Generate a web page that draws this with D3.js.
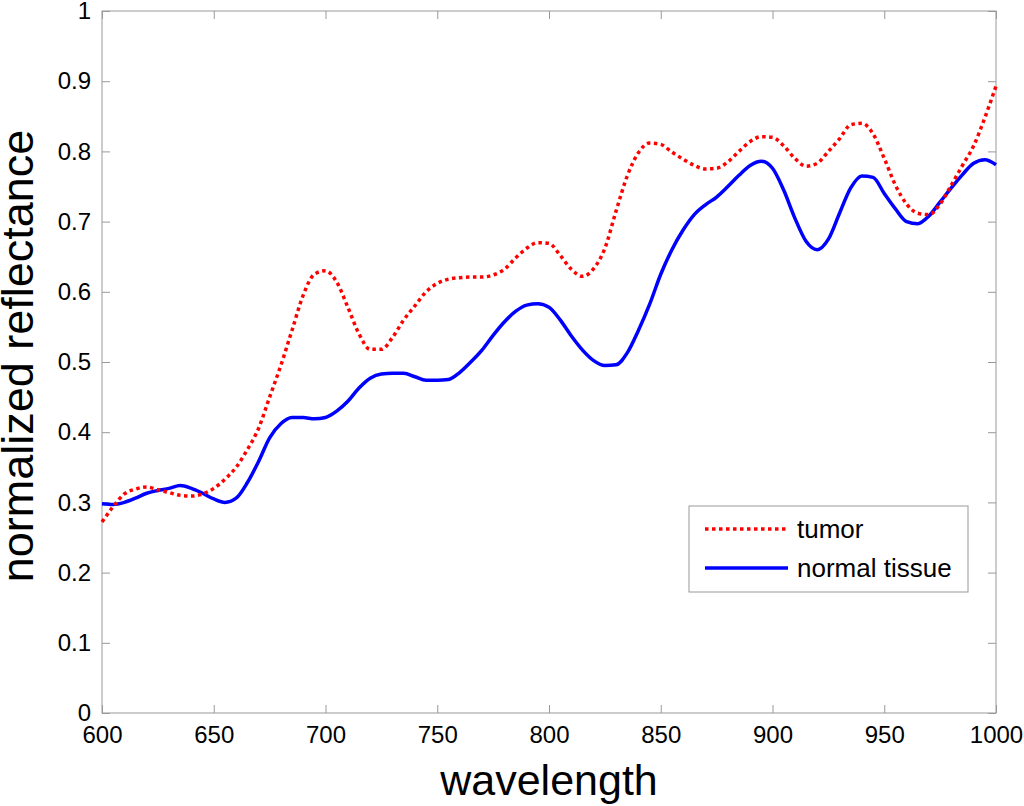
<!DOCTYPE html>
<html>
<head>
<meta charset="utf-8">
<style>
  body { margin: 0; background: white; font-family: "Liberation Sans", Arial, sans-serif; }
  svg { display: block; }
</style>
<script src="https://cdn.jsdelivr.net/npm/d3@7"></script>
</head>
<body>
<svg id="main"></svg>
<script>
// wavelength samples (nm)
const wavelengths = [600, 605, 610, 615, 620, 625, 630, 635, 640, 645,
  650, 655, 660, 665, 670, 675, 680, 685, 690, 695,
  700, 705, 710, 715, 720, 725, 730, 735, 740, 745,
  750, 755, 760, 765, 770, 775, 780, 785, 790, 795,
  800, 805, 810, 815, 820, 825, 830, 835, 840, 845,
  850, 855, 860, 865, 870, 875, 880, 885, 890, 895,
  900, 905, 910, 915, 920, 925, 930, 935, 940, 945,
  950, 955, 960, 965, 970, 975, 980, 985, 990, 995, 1000]

const tumor = [0.272, 0.294, 0.312, 0.319, 0.322, 0.318, 0.314, 0.310, 0.309, 0.312,
  0.320, 0.333, 0.350, 0.375, 0.405, 0.450, 0.495, 0.545, 0.595, 0.625,
  0.630, 0.614, 0.578, 0.540, 0.518, 0.518, 0.535, 0.560, 0.580, 0.600,
  0.612, 0.618, 0.620, 0.621, 0.621, 0.624, 0.632, 0.648, 0.662, 0.670,
  0.669, 0.652, 0.632, 0.622, 0.633, 0.662, 0.715, 0.765, 0.798, 0.812,
  0.810, 0.799, 0.789, 0.780, 0.775, 0.776, 0.785, 0.800, 0.814, 0.821,
  0.820, 0.808, 0.790, 0.779, 0.783, 0.800, 0.818, 0.838, 0.840, 0.825,
  0.790, 0.752, 0.725, 0.712, 0.710, 0.725, 0.752, 0.780, 0.808, 0.848, 0.893]

const normalTissue = [0.298, 0.297, 0.300, 0.306, 0.313, 0.317, 0.320, 0.324, 0.320, 0.313,
  0.305, 0.300, 0.306, 0.328, 0.358, 0.392, 0.412, 0.421, 0.421, 0.419,
  0.421, 0.430, 0.444, 0.463, 0.477, 0.483, 0.484, 0.484, 0.479, 0.474,
  0.474, 0.475, 0.485, 0.500, 0.517, 0.538, 0.557, 0.572, 0.581, 0.583,
  0.578, 0.560, 0.537, 0.517, 0.502, 0.495, 0.496, 0.513, 0.545, 0.582,
  0.625, 0.660, 0.688, 0.710, 0.724, 0.735, 0.750, 0.766, 0.780, 0.786,
  0.776, 0.745, 0.705, 0.672, 0.660, 0.675, 0.712, 0.748, 0.765, 0.763,
  0.740, 0.718, 0.700, 0.697, 0.708, 0.728, 0.748, 0.767, 0.783, 0.788, 0.781]

const xTicks = [600, 650, 700, 750, 800, 850, 900, 950, 1000]
const yTicks = [0, 0.1, 0.2, 0.3, 0.4, 0.5, 0.6, 0.7, 0.8, 0.9, 1]

const seriesNames = ["tumor", "normal tissue"]

const width = 1024
const height = 806
const margin = {top: 11, right: 28, bottom: 93, left: 102}

const svg = d3.select("#main")
  .attr("width", width)
  .attr("height", height)

const x = d3.scaleLinear().domain([600, 1000]).range([margin.left, width - margin.right])
const y = d3.scaleLinear().domain([0, 1]).range([height - margin.bottom, margin.top])

const axisColor = "#999"
const fmt = d3.format("~g")

// axis box
svg.append("rect")
  .attr("x", x(600)).attr("y", y(1))
  .attr("width", x(1000) - x(600)).attr("height", y(0) - y(1))
  .attr("fill", "white").attr("stroke", axisColor).attr("stroke-width", 1)

function styleAxis(g) {
  g.select(".domain").remove()
  g.selectAll(".tick line").attr("stroke", axisColor)
  g.selectAll(".tick text").attr("fill", "black")
    .attr("font-family", "'Liberation Sans', Arial, sans-serif")
    .attr("font-size", 24)
}

svg.append("g")
  .attr("transform", `translate(0,${y(0)})`)
  .call(d3.axisBottom(x).tickValues(xTicks).tickFormat(fmt).tickSize(-8).tickPadding(13))
  .call(styleAxis)

svg.append("g")
  .attr("transform", `translate(0,${y(1)})`)
  .call(d3.axisTop(x).tickValues(xTicks).tickFormat("").tickSize(-8))
  .call(styleAxis)

svg.append("g")
  .attr("transform", `translate(${x(600)},0)`)
  .call(d3.axisLeft(y).tickValues(yTicks).tickFormat(fmt).tickSize(-8).tickPadding(11))
  .call(styleAxis)

svg.append("g")
  .attr("transform", `translate(${x(1000)},0)`)
  .call(d3.axisRight(y).tickValues(yTicks).tickFormat("").tickSize(-8))
  .call(styleAxis)

// lines
const line = d3.line()
  .x(d => x(d[0]))
  .y(d => y(d[1]))
  .curve(d3.curveMonotoneX)

const plot = svg.append("g")

plot.append("path")
  .datum(wavelengths.map((w, i) => [w, normalTissue[i]]))
  .attr("fill", "none")
  .attr("stroke", "#0000ff")
  .attr("stroke-width", 3.5)
  .attr("d", line)

plot.append("path")
  .datum(wavelengths.map((w, i) => [w, tumor[i]]))
  .attr("fill", "none")
  .attr("stroke", "#ff0000")
  .attr("stroke-width", 3.5)
  .attr("stroke-dasharray", "3.5,3.5")
  .attr("d", line)

// axis titles
svg.append("text")
  .attr("x", (x(600) + x(1000)) / 2)
  .attr("y", 795)
  .attr("text-anchor", "middle")
  .attr("font-size", 43)
  .text("wavelength")

svg.append("text")
  .attr("transform", `translate(33,356) rotate(-90)`)
  .attr("text-anchor", "middle")
  .attr("font-size", 45)
  .text("normalized reflectance")

// legend
const legend = svg.append("g")
legend.append("rect")
  .attr("x", 689).attr("y", 506)
  .attr("width", 279).attr("height", 86)
  .attr("fill", "white").attr("stroke", axisColor)

const legendStyles = [
  {color: "#ff0000", dash: "3.5,3.5"},
  {color: "#0000ff", dash: null}
]

seriesNames.forEach((name, i) => {
  const cy = 529 + i * 39
  legend.append("line")
    .attr("x1", 705).attr("x2", 788)
    .attr("y1", cy).attr("y2", cy)
    .attr("stroke", legendStyles[i].color)
    .attr("stroke-width", 3.5)
    .attr("stroke-dasharray", legendStyles[i].dash)
  legend.append("text")
    .attr("x", 797).attr("y", cy + 9)
    .attr("font-size", 26)
    .text(name)
})
</script>
</body>
</html>
